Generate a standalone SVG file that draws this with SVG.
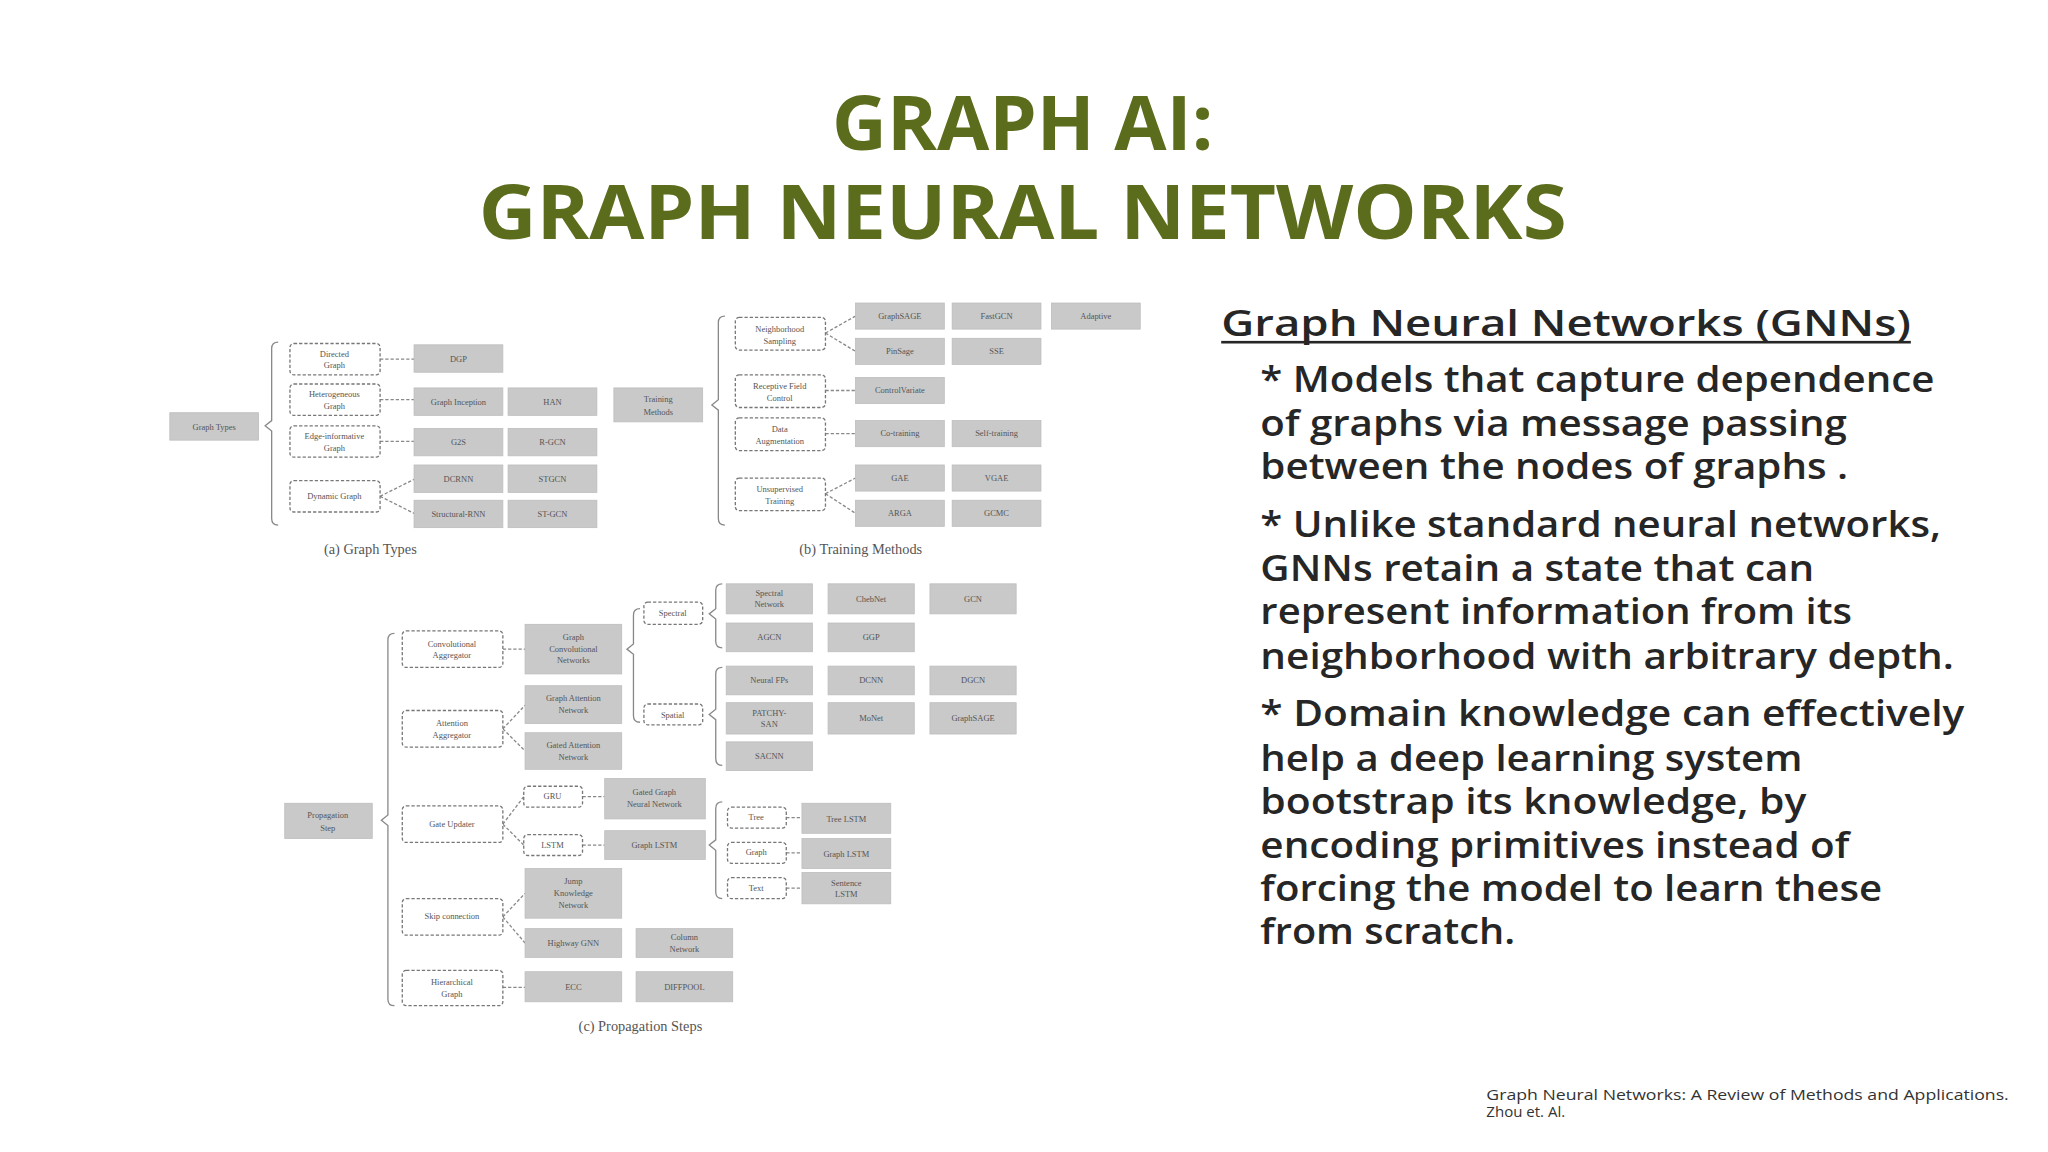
<svg xmlns="http://www.w3.org/2000/svg" width="2048" height="1152" viewBox="0 0 2048 1152">
<style>
.t{font-family:"Open Sans","Liberation Sans",sans-serif;font-weight:bold;fill:#5b6d1c}
.b{font-family:"Open Sans","Liberation Sans",sans-serif;font-weight:600;fill:#262626;font-size:28px}
.fn{font-family:"Open Sans","Liberation Sans",sans-serif;fill:#333;font-size:11.5px}
.g rect{fill:#c9c9c9;stroke:#bdbdbd;stroke-width:0.6}
.d rect{fill:#fff;stroke:#777;stroke-width:1;stroke-dasharray:2.5 1.5}
.g text,.d text{font-family:"Liberation Serif",serif;font-size:6.5px;fill:#555;text-anchor:middle}
.cap{font-family:"Liberation Serif",serif;font-size:11px;fill:#555}
.c path{fill:none;stroke:#888;stroke-width:1}
.c .dl{stroke-dasharray:2.5 1.5}
</style>
<rect width="2048" height="1152" fill="#fff"/>
<g transform="scale(1.3061)">
<g id="title">
<text class="t" x="783" y="115" font-size="58" text-anchor="middle">GRAPH AI:</text>
<text class="t" x="783" y="183" font-size="58" text-anchor="middle" textLength="833" lengthAdjust="spacingAndGlyphs">GRAPH NEURAL NETWORKS</text>
</g>
<g id="bullets">
<text class="b" x="935" y="257" font-size="30" textLength="528" lengthAdjust="spacingAndGlyphs">Graph Neural Networks (GNNs)</text>
<rect x="935" y="261" width="528" height="2" fill="#262626"/>
<text class="b" x="965" y="300" textLength="516" lengthAdjust="spacingAndGlyphs">* Models that capture dependence</text>
<text class="b" x="965" y="334" textLength="449" lengthAdjust="spacingAndGlyphs">of graphs via message passing</text>
<text class="b" x="965" y="367" textLength="450" lengthAdjust="spacingAndGlyphs">between the nodes of graphs .</text>
<text class="b" x="965" y="411" textLength="521" lengthAdjust="spacingAndGlyphs">* Unlike standard neural networks,</text>
<text class="b" x="965" y="445" textLength="424" lengthAdjust="spacingAndGlyphs">GNNs retain a state that can</text>
<text class="b" x="965" y="478" textLength="453" lengthAdjust="spacingAndGlyphs">represent information from its</text>
<text class="b" x="965" y="512" textLength="531" lengthAdjust="spacingAndGlyphs">neighborhood with arbitrary depth.</text>
<text class="b" x="965" y="556" textLength="539" lengthAdjust="spacingAndGlyphs">* Domain knowledge can effectively</text>
<text class="b" x="965" y="590" textLength="415" lengthAdjust="spacingAndGlyphs">help a deep learning system</text>
<text class="b" x="965" y="623" textLength="418" lengthAdjust="spacingAndGlyphs">bootstrap its knowledge, by</text>
<text class="b" x="965" y="657" textLength="451" lengthAdjust="spacingAndGlyphs">encoding primitives instead of</text>
<text class="b" x="965" y="690" textLength="476" lengthAdjust="spacingAndGlyphs">forcing the model to learn these</text>
<text class="b" x="965" y="723" textLength="195" lengthAdjust="spacingAndGlyphs">from scratch.</text>
</g>
<g id="footnote">
<text class="fn" x="1138" y="842" textLength="400" lengthAdjust="spacingAndGlyphs">Graph Neural Networks: A Review of Methods and Applications.</text>
<text class="fn" x="1138" y="855">Zhou et. Al.</text>
</g>
<g id="connectors" class="c">
<path d="M213,262 Q208,262 208,267 L208,322 L203,326 L208,330 L208,397 Q208,402 213,402"/>
<path d="M555,242 Q550,242 550,247 L550,306 L545,310 L550,314 L550,397 Q550,402 555,402"/>
<path d="M302,485 Q297,485 297,490 L297,624 L292,628 L297,632 L297,765 Q297,770 302,770"/>
<path d="M490,466 Q485,466 485,471 L485,493 L480,497 L485,501 L485,548 Q485,553 490,553"/>
<path d="M553,447 Q548,447 548,452 L548,466 L543,470 L548,474 L548,491 Q548,496 553,496"/>
<path d="M553,511 Q548,511 548,516 L548,543 L543,547 L548,551 L548,581 Q548,586 553,586"/>
<path d="M553,614 Q548,614 548,619 L548,643 L543,647 L548,651 L548,683 Q548,688 553,688"/>
<path class="dl" d="M291,275 H317 M291,306 H317 M291,338 H317 M291,380 L317,367 M291,380 L317,393"/>
<path class="dl" d="M632,255 L655,242 M632,255 L655,269 M632,299 H655 M632,332 H655 M632,378 L655,366 M632,378 L655,393"/>
<path class="dl" d="M385,497 H402 M385,558 L402,540 M385,558 L402,575 M385,631 L401,610 M385,631 L401,647 M446,610 H463 M446,647 H463 M385,702 L402,684 M385,702 L402,722 M385,756 H402 M602,626 H614 M602,653 H614 M602,680 H614"/>
</g>
<g id="a">
<g class="g"><rect x="130" y="316" width="68" height="21"/><text x="164" y="329">Graph Types</text></g>
<g class="d"><rect x="222" y="263" width="69" height="24" rx="3"/><text x="256" y="273">Directed</text><text x="256" y="282">Graph</text></g>
<g class="d"><rect x="222" y="294" width="69" height="24" rx="3"/><text x="256" y="304">Heterogeneous</text><text x="256" y="313">Graph</text></g>
<g class="d"><rect x="222" y="326" width="69" height="24" rx="3"/><text x="256" y="336">Edge-informative</text><text x="256" y="345">Graph</text></g>
<g class="d"><rect x="222" y="368" width="69" height="24" rx="3"/><text x="256" y="382">Dynamic Graph</text></g>
<g class="g"><rect x="317" y="264" width="68" height="21"/><text x="351" y="277">DGP</text></g>
<g class="g"><rect x="317" y="297" width="68" height="21"/><text x="351" y="310">Graph Inception</text></g>
<g class="g"><rect x="389" y="297" width="68" height="21"/><text x="423" y="310">HAN</text></g>
<g class="g"><rect x="317" y="328" width="68" height="21"/><text x="351" y="341">G2S</text></g>
<g class="g"><rect x="389" y="328" width="68" height="21"/><text x="423" y="341">R-GCN</text></g>
<g class="g"><rect x="317" y="356" width="68" height="21"/><text x="351" y="369">DCRNN</text></g>
<g class="g"><rect x="389" y="356" width="68" height="21"/><text x="423" y="369">STGCN</text></g>
<g class="g"><rect x="317" y="383" width="68" height="21"/><text x="351" y="396">Structural-RNN</text></g>
<g class="g"><rect x="389" y="383" width="68" height="21"/><text x="423" y="396">ST-GCN</text></g>
<text class="cap" x="248" y="424">(a) Graph Types</text>
</g>
<g id="b">
<g class="g"><rect x="470" y="297" width="68" height="26"/><text x="504" y="308">Training</text><text x="504" y="318">Methods</text></g>
<g class="d"><rect x="563" y="243" width="69" height="25" rx="3"/><text x="597" y="254">Neighborhood</text><text x="597" y="263">Sampling</text></g>
<g class="d"><rect x="563" y="287" width="69" height="25" rx="3"/><text x="597" y="298">Receptive Field</text><text x="597" y="307">Control</text></g>
<g class="d"><rect x="563" y="320" width="69" height="25" rx="3"/><text x="597" y="331">Data</text><text x="597" y="340">Augmentation</text></g>
<g class="d"><rect x="563" y="366" width="69" height="25" rx="3"/><text x="597" y="377">Unsupervised</text><text x="597" y="386">Training</text></g>
<g class="g"><rect x="655" y="232" width="68" height="20"/><text x="689" y="244">GraphSAGE</text></g>
<g class="g"><rect x="729" y="232" width="68" height="20"/><text x="763" y="244">FastGCN</text></g>
<g class="g"><rect x="805" y="232" width="68" height="20"/><text x="839" y="244">Adaptive</text></g>
<g class="g"><rect x="655" y="259" width="68" height="20"/><text x="689" y="271">PinSage</text></g>
<g class="g"><rect x="729" y="259" width="68" height="20"/><text x="763" y="271">SSE</text></g>
<g class="g"><rect x="655" y="289" width="68" height="20"/><text x="689" y="301">ControlVariate</text></g>
<g class="g"><rect x="655" y="322" width="68" height="20"/><text x="689" y="334">Co-training</text></g>
<g class="g"><rect x="729" y="322" width="68" height="20"/><text x="763" y="334">Self-training</text></g>
<g class="g"><rect x="655" y="356" width="68" height="20"/><text x="689" y="368">GAE</text></g>
<g class="g"><rect x="729" y="356" width="68" height="20"/><text x="763" y="368">VGAE</text></g>
<g class="g"><rect x="655" y="383" width="68" height="20"/><text x="689" y="395">ARGA</text></g>
<g class="g"><rect x="729" y="383" width="68" height="20"/><text x="763" y="395">GCMC</text></g>
<text class="cap" x="612" y="424">(b) Training Methods</text>
</g>
<g id="c">
<g class="g"><rect x="218" y="615" width="67" height="27"/><text x="251" y="626">Propagation</text><text x="251" y="636">Step</text></g>
<g class="d"><rect x="308" y="483" width="77" height="28" rx="3"/><text x="346" y="495">Convolutional</text><text x="346" y="504">Aggregator</text></g>
<g class="d"><rect x="308" y="544" width="77" height="28" rx="3"/><text x="346" y="556">Attention</text><text x="346" y="565">Aggregator</text></g>
<g class="d"><rect x="308" y="617" width="77" height="28" rx="3"/><text x="346" y="633">Gate Updater</text></g>
<g class="d"><rect x="308" y="688" width="77" height="28" rx="3"/><text x="346" y="704">Skip connection</text></g>
<g class="d"><rect x="308" y="743" width="77" height="27" rx="3"/><text x="346" y="754">Hierarchical</text><text x="346" y="763">Graph</text></g>
<g class="g"><rect x="402" y="478" width="74" height="38"/><text x="439" y="490">Graph</text><text x="439" y="499">Convolutional</text><text x="439" y="508">Networks</text></g>
<g class="g"><rect x="402" y="525" width="74" height="29"/><text x="439" y="537">Graph Attention</text><text x="439" y="546">Network</text></g>
<g class="g"><rect x="402" y="561" width="74" height="28"/><text x="439" y="573">Gated Attention</text><text x="439" y="582">Network</text></g>
<g class="d"><rect x="493" y="461" width="45" height="17" rx="3"/><text x="515" y="472">Spectral</text></g>
<g class="d"><rect x="493" y="539" width="45" height="16" rx="3"/><text x="515" y="550">Spatial</text></g>
<g class="g"><rect x="556" y="447" width="66" height="23"/><text x="589" y="456">Spectral</text><text x="589" y="465">Network</text></g>
<g class="g"><rect x="634" y="447" width="66" height="23"/><text x="667" y="461">ChebNet</text></g>
<g class="g"><rect x="712" y="447" width="66" height="23"/><text x="745" y="461">GCN</text></g>
<g class="g"><rect x="556" y="477" width="66" height="22"/><text x="589" y="490">AGCN</text></g>
<g class="g"><rect x="634" y="477" width="66" height="22"/><text x="667" y="490">GGP</text></g>
<g class="g"><rect x="556" y="510" width="66" height="22"/><text x="589" y="523">Neural FPs</text></g>
<g class="g"><rect x="634" y="510" width="66" height="22"/><text x="667" y="523">DCNN</text></g>
<g class="g"><rect x="712" y="510" width="66" height="22"/><text x="745" y="523">DGCN</text></g>
<g class="g"><rect x="556" y="538" width="66" height="24"/><text x="589" y="548">PATCHY-</text><text x="589" y="557">SAN</text></g>
<g class="g"><rect x="634" y="538" width="66" height="24"/><text x="667" y="552">MoNet</text></g>
<g class="g"><rect x="712" y="538" width="66" height="24"/><text x="745" y="552">GraphSAGE</text></g>
<g class="g"><rect x="556" y="568" width="66" height="22"/><text x="589" y="581">SACNN</text></g>
<g class="d"><rect x="401" y="602" width="45" height="16" rx="3"/><text x="423" y="612">GRU</text></g>
<g class="d"><rect x="401" y="639" width="45" height="16" rx="3"/><text x="423" y="649">LSTM</text></g>
<g class="g"><rect x="463" y="596" width="77" height="31"/><text x="501" y="609">Gated Graph</text><text x="501" y="618">Neural Network</text></g>
<g class="g"><rect x="463" y="636" width="77" height="22"/><text x="501" y="649">Graph LSTM</text></g>
<g class="d"><rect x="557" y="618" width="45" height="16" rx="3"/><text x="579" y="628">Tree</text></g>
<g class="d"><rect x="557" y="645" width="45" height="16" rx="3"/><text x="579" y="655">Graph</text></g>
<g class="d"><rect x="557" y="672" width="45" height="16" rx="3"/><text x="579" y="682">Text</text></g>
<g class="g"><rect x="614" y="615" width="68" height="23"/><text x="648" y="629">Tree LSTM</text></g>
<g class="g"><rect x="614" y="642" width="68" height="23"/><text x="648" y="656">Graph LSTM</text></g>
<g class="g"><rect x="614" y="668" width="68" height="24"/><text x="648" y="678">Sentence</text><text x="648" y="687">LSTM</text></g>
<g class="g"><rect x="402" y="665" width="74" height="38"/><text x="439" y="677">Jump</text><text x="439" y="686">Knowledge</text><text x="439" y="695">Network</text></g>
<g class="g"><rect x="402" y="711" width="74" height="22"/><text x="439" y="724">Highway GNN</text></g>
<g class="g"><rect x="487" y="711" width="74" height="22"/><text x="524" y="720">Column</text><text x="524" y="729">Network</text></g>
<g class="g"><rect x="402" y="744" width="74" height="23"/><text x="439" y="758">ECC</text></g>
<g class="g"><rect x="487" y="744" width="74" height="23"/><text x="524" y="758">DIFFPOOL</text></g>
<text class="cap" x="443" y="789">(c) Propagation Steps</text>
</g>
</g>
</svg>
